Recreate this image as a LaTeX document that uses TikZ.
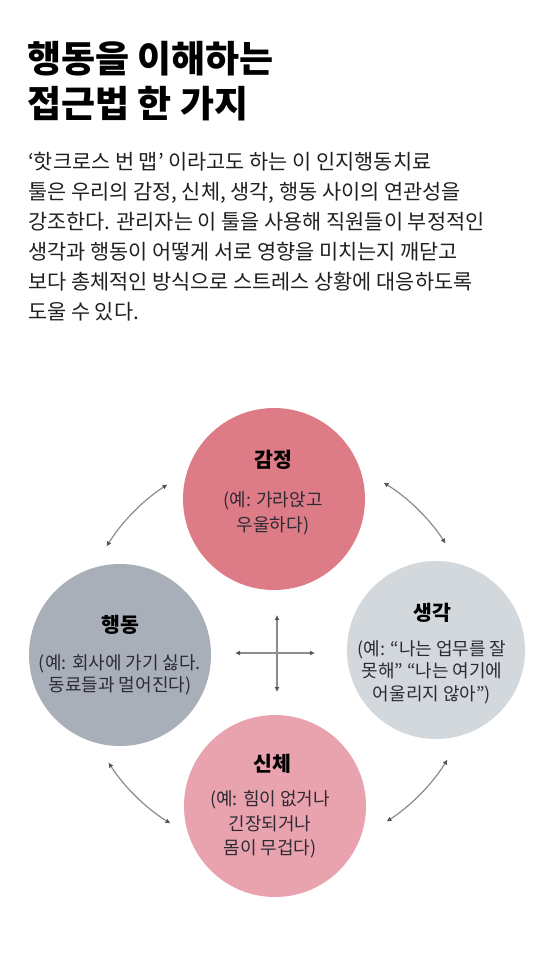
\documentclass[tikz,border=0pt]{standalone}
\usepackage{fontspec}
\setmainfont{Noto Sans CJK KR}
\usetikzlibrary{arrows.meta}
\definecolor{emocol}{HTML}{DD7B87}
\definecolor{bodycol}{HTML}{E9A3AF}
\definecolor{actcol}{HTML}{A8AFB8}
\definecolor{thocol}{HTML}{D3D8DD}
\definecolor{bodytext}{HTML}{231F20}
\definecolor{subtext}{HTML}{2D2A33}
\definecolor{conncol}{HTML}{8C8C8C}
\definecolor{tipcol}{HTML}{555555}
\begin{document}
\begin{tikzpicture}[x=1pt,y=1pt,
  heading/.style={anchor=base west, inner sep=0pt, font=\fontsize{37}{42}\selectfont\bfseries, text=black},
  bodyline/.style={anchor=base west, inner sep=0pt, font=\fontsize{20.8}{24}\selectfont, text=bodytext},
  bubble/.style={circle, draw=none, minimum size=182pt, inner sep=0pt},
  ctitle/.style={anchor=base, inner sep=0pt, font=\fontsize{20.5}{24}\selectfont\bfseries, text=black},
  csub/.style={anchor=base, inner sep=0pt, font=\fontsize{18}{21}\selectfont, text=subtext},
  conn/.style={draw=conncol, line width=1.2pt,
    {Latex[length=5pt,width=5pt,color=tipcol]}-{Latex[length=5pt,width=5pt,color=tipcol]}},
]
\fill[white] (0,0) rectangle (552,-964);
\useasboundingbox (0,0) rectangle (552,-964);

% heading
\node[heading] (h1) at (27,-72) {행동을 이해하는};
\node[heading] (h2) at (27,-117) {접근법 한 가지};

% body text
\node[bodyline] (b1) at (28,-169) {‘핫크로스 번 맵’ 이라고도 하는 이 인지행동치료};
\node[bodyline] (b2) at (28,-199) {툴은 우리의 감정, 신체, 생각, 행동 사이의 연관성을};
\node[bodyline] (b3) at (28,-229) {강조한다. 관리자는 이 툴을 사용해 직원들이 부정적인};
\node[bodyline] (b4) at (28,-259) {생각과 행동이 어떻게 서로 영향을 미치는지 깨닫고};
\node[bodyline] (b5) at (28,-289) {보다 총체적인 방식으로 스트레스 상황에 대응하도록};
\node[bodyline] (b6) at (28,-319) {도울 수 있다.};

% circles
\node[bubble, fill=emocol] (emo) at (274,-499) {};
\node[bubble, fill=actcol] (act) at (120,-655) {};
\node[bubble, fill=thocol, minimum size=178pt] (tho) at (436,-650) {};
\node[bubble, fill=bodycol] (phy) at (275,-806) {};

% circle texts
\node[ctitle] (emoT) at (273,-467) {감정};
\node[csub] (emo1) at (273,-506) {(예: 가라앉고};
\node[csub] (emo2) at (273,-531) {우울하다)};

\node[ctitle] (actT) at (120,-632) {행동};
\node[csub] (act1) at (120,-669) {(예: 회사에 가기 싫다.};
\node[csub] (act2) at (120,-691) {동료들과 멀어진다)};

\node[ctitle] (thoT) at (432,-620) {생각};
\node[csub] (tho1) at (432,-655) {(예: “나는 업무를 잘};
\node[csub] (tho2) at (432,-677) {못해” “나는 여기에};
\node[csub] (tho3) at (432,-700) {어울리지 않아”)};

\node[ctitle] (phyT) at (272,-771) {신체};
\node[csub] (phy1) at (270,-805) {(예: 힘이 없거나};
\node[csub] (phy2) at (270,-830) {긴장되거나};
\node[csub] (phy3) at (270,-854) {몸이 무겁다)};

% connectors: arcs around the centre
\coordinate (ctr) at (277,-653);
\path (ctr) ++(123:201) coordinate (tlA);
\path (ctr) ++(33:201) coordinate (trA);
\path (ctr) ++(213:201) coordinate (blA);
\path (ctr) ++(303:201) coordinate (brA);
\draw[conn] (tlA) arc[start angle=123, end angle=148, radius=201];
\draw[conn] (trA) arc[start angle=33, end angle=58, radius=201];
\draw[conn] (blA) arc[start angle=213, end angle=238, radius=201];
\draw[conn] (brA) arc[start angle=303, end angle=328, radius=201];

% central cross
\coordinate (crT) at (277,-615);
\coordinate (crB) at (277,-692);
\coordinate (crL) at (235,-653);
\coordinate (crR) at (315,-653);
\draw[conn] (crT) -- (crB);
\draw[conn] (crL) -- (crR);
\end{tikzpicture}
\end{document}
